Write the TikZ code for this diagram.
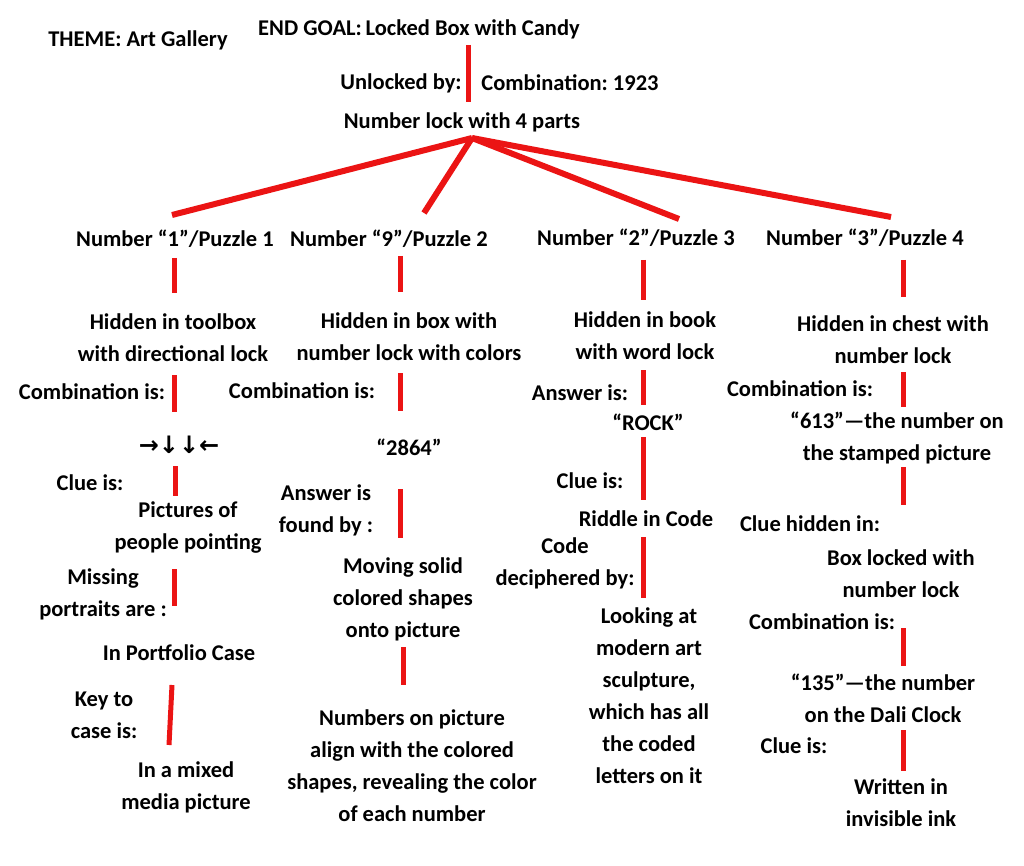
\documentclass[tikz,border=0pt]{standalone}
\usepackage{fontspec}
\setmainfont{Carlito}
\newfontfamily\arrowfont{DejaVu Sans Bold}
\usepackage{xcolor}
\definecolor{linered}{RGB}{235,20,20}
\frenchspacing

\tikzset{
  lbl/.style={font=\bfseries\fontsize{22.5}{32}\selectfont, align=center, inner sep=0pt},
  redline/.style={line width=5pt, color=linered},
  fanline/.style={line width=6pt, color=linered}
}

\begin{document}
\begin{tikzpicture}[x=1pt,y=-1pt]
\useasboundingbox (0,0) rectangle (1024,866);

% Top of the tree
\node[lbl] (theme) at (138,40) {THEME: Art Gallery};
\node[lbl] (goal) at (419,29) {END GOAL:\,Locked Box with Candy};
\node[lbl] (unlock) at (401,83) {Unlocked by:};
\node[lbl] (combo) at (570,83) {Combination: 1923};
\node[lbl] (lock) at (462,122) {Number lock with 4 parts};
\coordinate (g1) at (468,45); \coordinate (g2) at (468,102);
\draw[redline] (g1) -- (g2);

% Fan out to the four puzzles
\node[lbl] (p1) at (175,239) {Number “1”/Puzzle 1};
\node[lbl] (p2) at (389,239) {Number “9”/Puzzle 2};
\node[lbl] (p3) at (636,238) {Number “2”/Puzzle 3};
\node[lbl] (p4) at (865,238) {Number “3”/Puzzle 4};
\coordinate (fan) at (472,138);
\coordinate (f1) at (172,215); \coordinate (f2) at (424,213);
\coordinate (f3) at (679,219); \coordinate (f4) at (891,217);
\foreach \e in {f1,f2,f3,f4} \draw[fanline] (fan) -- (\e);

% Puzzle 1
\node[lbl] (a1) at (173,338) {Hidden in toolbox\\with directional lock};
\node[lbl] (a2) at (92,392) {Combination is:};
\node[lbl] (a3) at (179,445) {\arrowfont\fontsize{24}{32}\selectfont →↓↓←};
\node[lbl] (a4) at (90,483) {Clue is:};
\node[lbl] (a5) at (188,528) {Pictures of\\people pointing};
\node[lbl] (a6) at (103,594) {Missing\\portraits are :};
\node[lbl] (a7) at (179,653) {In Portfolio Case};
\node[lbl] (a8) at (104,715) {Key to\\case is:};
\node[lbl] (a9) at (186,787) {In a mixed\\media picture};
\coordinate (a1t) at (174,258); \coordinate (a1b) at (174,293);
\coordinate (a2t) at (174,375); \coordinate (a2b) at (174,412);
\coordinate (a4t) at (175,466); \coordinate (a4b) at (175,496);
\coordinate (a6t) at (174,569); \coordinate (a6b) at (174,606);
\coordinate (a8t) at (172,685); \coordinate (a8b) at (169,745);
\foreach \s in {a1,a2,a4,a6,a8} \draw[redline] (\s t) -- (\s b);

% Puzzle 2
\node[lbl] (b1) at (409,337) {Hidden in box with\\number lock with colors};
\node[lbl] (b2) at (302,391) {Combination is:};
\node[lbl] (b3) at (409,447) {“2864”};
\node[lbl] (b4) at (326,510) {Answer is\\found by :};
\node[lbl] (b5) at (403,599) {Moving solid\\colored shapes\\onto picture};
\node[lbl] (b6) at (412,766) {Numbers on picture\\align with the colored\\shapes, revealing the color\\of each number};
\coordinate (b1t) at (400,256); \coordinate (b1b) at (400,292);
\coordinate (b2t) at (400,373); \coordinate (b2b) at (400,411);
\coordinate (b4t) at (400,489); \coordinate (b4b) at (400,538);
\coordinate (b5t) at (403,647); \coordinate (b5b) at (403,685);
\foreach \s in {b1,b2,b4,b5} \draw[redline] (\s t) -- (\s b);

% Puzzle 3
\node[lbl] (c1) at (645,336) {Hidden in book\\with word lock};
\node[lbl] (c2) at (580,393) {Answer is:};
\node[lbl] (c3) at (648,422) {“ROCK”};
\node[lbl] (c4) at (590,481) {Clue is:};
\node[lbl] (c5) at (646,519) {Riddle in Code};
\node[lbl] (c6) at (565,563) {Code\\deciphered by:};
\node[lbl] (c7) at (649,696) {Looking at\\modern art\\sculpture,\\which has all\\the coded\\letters on it};
\coordinate (c1t) at (643,260); \coordinate (c1b) at (643,300);
\coordinate (c2t) at (643,370); \coordinate (c2b) at (643,405);
\coordinate (c4t) at (643,437); \coordinate (c4b) at (643,500);
\coordinate (c6t) at (643,537); \coordinate (c6b) at (643,598);
\foreach \s in {c1,c2,c4,c6} \draw[redline] (\s t) -- (\s b);

% Puzzle 4
\node[lbl] (d1) at (893,340) {Hidden in chest with\\number lock};
\node[lbl] (d2) at (800,389) {Combination is:};
\node[lbl] (d3) at (897,438) {“613”—the number on\\the stamped picture};
\node[lbl] (d4) at (810,524) {Clue hidden in:};
\node[lbl] (d5) at (901,574) {Box locked with\\number lock};
\node[lbl] (d6) at (822,622) {Combination is:};
\node[lbl] (d7) at (883,698) {“135”—the number\\on the Dali Clock};
\node[lbl] (d8) at (794,746) {Clue is:};
\node[lbl] (d9) at (901,803) {Written in\\invisible ink};
\coordinate (d1t) at (903,260); \coordinate (d1b) at (903,297);
\coordinate (d2t) at (903,372); \coordinate (d2b) at (903,407);
\coordinate (d3t) at (903,467); \coordinate (d3b) at (903,505);
\coordinate (d6t) at (903,628); \coordinate (d6b) at (903,666);
\coordinate (d8t) at (903,730); \coordinate (d8b) at (903,771);
\foreach \s in {d1,d2,d3,d6,d8} \draw[redline] (\s t) -- (\s b);
\end{tikzpicture}
\end{document}
